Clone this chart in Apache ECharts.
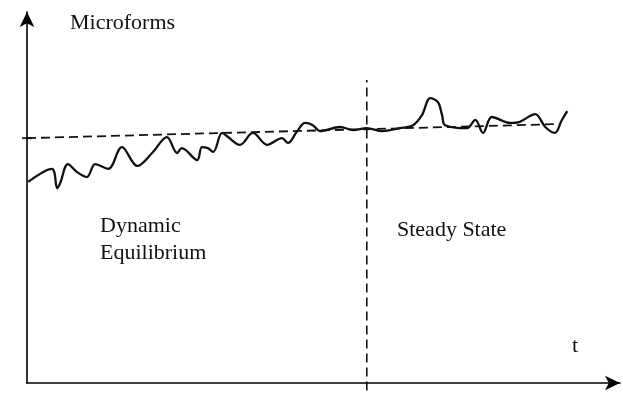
<!DOCTYPE html>
<html><head><meta charset="utf-8">
<script src="https://cdn.jsdelivr.net/npm/echarts@6/dist/echarts.min.js"></script>
<style>html,body{margin:0;padding:0;background:#fff}#c{width:623px;height:400px}</style>
</head><body><div id="c"></div>
<script>
// time positions (t) of the traced curve
const tValues = [0.2,4.2,5.1,5.6,6.9,8.4,10.1,11.5,13.7,16.0,18.6,21.1,23.6,25.3,26.1,28.7,29.5,30.5,31.4,32.9,33.9,35.9,38.1,40.5,43.0,44.0,45.5,46.9,48.2,49.4,52.8,55.0,57.3,59.9,62.9,65.1,66.6,68.0,69.3,70.0,70.5,74.2,75.6,76.9,78.4,81.5,83.1,85.7,87.4,89.0,90.2,91.1];
// microform values
const microforms = [54.2,57.7,52.5,53.9,59.0,56.9,55.5,59.0,57.7,63.6,58.5,62.0,66.3,62.0,63.3,60.1,63.6,63.3,62.3,67.4,66.3,64.2,67.4,64.2,66.0,64.7,67.7,70.1,69.5,67.9,69.0,68.2,68.7,67.9,68.7,69.5,72.2,76.8,75.7,72.2,69.5,68.7,70.9,67.4,71.7,70.1,70.4,72.5,69.0,67.4,70.9,73.3];
// equilibrium trend line (start / end)
const trendT = [0, 90];
const trendV = [66.0, 69.8];
// phase boundary
const boundaryT = 57.3;
const boundaryV = [-2, 81.7];
// labels
const yTitle = 'Microforms';
const xTitle = 't';
const phase1 = ['Dynamic', 'Equilibrium'];
const phase2 = 'Steady State';

const chart = echarts.init(document.getElementById('c'));
const font = '"Liberation Serif", "Times New Roman", serif';
const txt = (text, x, y) => ({type:'text', x, y, style:{text, font:'22px ' + font, fill:'#111', verticalAlign:'middle'}});
chart.setOption({
  animation:false,
  grid:{left:27, right:3, top:12, bottom:17},
  xAxis:{type:'value', min:0, max:100,
    axisLine:{onZero:true, symbol:['none','arrow'], symbolSize:[11,15], lineStyle:{color:'#000', width:1.6}},
    axisTick:{show:false}, axisLabel:{show:false}, splitLine:{show:false}},
  yAxis:{type:'value', min:0, max:100,
    axisLine:{onZero:true, symbol:['none','arrow'], symbolSize:[11,15], lineStyle:{color:'#000', width:1.6}},
    axisTick:{show:false}, axisLabel:{show:false}, splitLine:{show:false}},
  series:[
    {type:'line', data:tValues.map((t,i)=>[t, microforms[i]]), smooth:0.35, showSymbol:false,
      lineStyle:{color:'#111', width:2.3}},
    {type:'line', data:trendT.map((t,i)=>[t, trendV[i]]), showSymbol:false,
      lineStyle:{color:'#111', width:1.8, type:[9,5]}},
    {type:'line', data:boundaryV.map(v=>[boundaryT, v]), showSymbol:false, clip:false,
      lineStyle:{color:'#111', width:1.6, type:[9,5]}},
    {type:'scatter', data:[[0, trendV[0]]], symbol:'rect', symbolSize:[10,2], itemStyle:{color:'#000'}}
  ],
  graphic:[
    txt(yTitle, 70, 23),
    txt(phase1[0], 100, 226),
    txt(phase1[1], 100, 253),
    txt(phase2, 397, 230),
    txt(xTitle, 572, 346)
  ]
});
</script></body></html>
